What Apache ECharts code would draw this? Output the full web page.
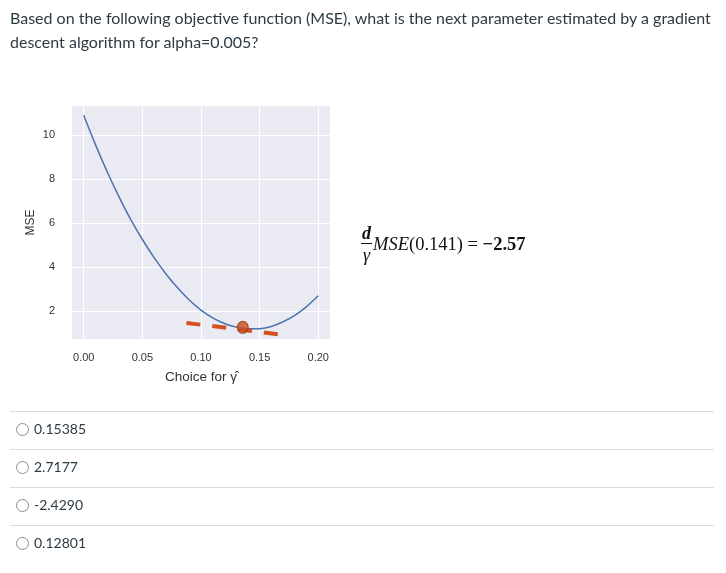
<!DOCTYPE html>
<html>
<head>
<meta charset="utf-8">
<script src="https://cdn.jsdelivr.net/npm/echarts@6/dist/echarts.min.js"></script>
<style>
  html, body { margin: 0; padding: 0; background: #fff; }
  #wrap { position: relative; width: 726px; height: 573px; overflow: hidden; }
  #chart { position: absolute; left: 0; top: 0; width: 726px; height: 573px; }
  .q { position: absolute; left: 10px; top: 6px; font-family: Lato, sans-serif; font-size: 16px; line-height: 24px; color: #2d3b45; white-space: nowrap; }
  .eq { position: absolute; left: 361px; top: 225px; font-family: "Liberation Serif", "DejaVu Serif", serif; font-size: 18.5px; color: #111; white-space: nowrap; display: flex; align-items: center; }
  .frac { display: inline-flex; flex-direction: column; align-items: center; font-style: italic; font-size: 18px; line-height: 16px; margin-right: 1px; }
  .frac .num { border-bottom: 1px solid #111; padding: 0 1px 2px 1px; font-weight: bold; }
  .frac .den { padding-top: 3px; }
  .opt { position: absolute; left: 0; width: 726px; font-family: Lato, sans-serif; font-size: 14px; color: #2d3b45; }
  .sep { position: absolute; left: 10px; width: 704px; height: 1px; background: #d9dcde; }
  .radio { position: absolute; left: 16px; width: 11px; height: 11px; border: 1px solid #8c8c8c; border-radius: 50%; background: #fff; }
  .otext { position: absolute; left: 34px; }
</style>
</head>
<body>
<div id="wrap">
  <div id="chart"></div>
  <div class="q">Based on the following objective function (MSE), what is the next parameter estimated by a gradient<br>descent algorithm for alpha=0.005?</div>
  <div class="eq"><span class="frac"><span class="num">d</span><span class="den">γ</span></span><span><i>MSE</i>(0.141) = <b>−2.57</b></span></div>
  <div id="opts"></div>
</div>
<script>
// ---- data ----
const xVals   = [0.00, 0.01, 0.02, 0.03, 0.04, 0.05, 0.06, 0.07, 0.08, 0.09, 0.10,
                 0.11, 0.12, 0.13, 0.14, 0.15, 0.16, 0.17, 0.18, 0.19, 0.20];
const mseVals = [10.89, 9.56, 8.33, 7.20, 6.17, 5.26, 4.44, 3.71, 3.07, 2.52, 2.06,
                 1.71, 1.45, 1.29, 1.21, 1.22, 1.32, 1.53, 1.82, 2.22, 2.71];
const tangentX = [0.0876, 0.1667];
const tangentY = [1.48, 0.96];
const pointX = [0.1356];
const pointY = [1.28];
const xTicks = [0.00, 0.05, 0.10, 0.15, 0.20];
const yTicks = [2, 4, 6, 8, 10];
const answerOptions = ["0.15385", "2.7177", "-2.4290", "0.12801"];

// ---- answer list ----
const opts = document.getElementById('opts');
const sepTops = [411, 449, 487, 525];
answerOptions.forEach((t, i) => {
  const sep = document.createElement('div');
  sep.className = 'sep';
  sep.style.top = sepTops[i] + 'px';
  opts.appendChild(sep);
  const o = document.createElement('div');
  o.className = 'opt';
  o.style.top = (sepTops[i] + 9) + 'px';
  o.style.height = '20px';
  o.innerHTML = '<span class="radio" style="top:3px"></span><span class="otext" style="top:0px;line-height:18px">' + t + '</span>';
  opts.appendChild(o);
});

// ---- chart ----
const chart = echarts.init(document.getElementById('chart'), null, { renderer: 'canvas' });
const labelColor = '#333333';
const fam = 'Liberation Sans, Arial, sans-serif';
chart.setOption({
  animation: false,
  grid: { left: 72, top: 106, width: 258, height: 233, show: true, backgroundColor: '#eaeaf2', borderWidth: 0 },
  xAxis: {
    type: 'value', min: -0.01, max: 0.21,
    name: 'Choice for \u03B3\u0302', nameLocation: 'middle', nameGap: 31,
    nameTextStyle: { fontFamily: fam, fontSize: 13.5, color: labelColor },
    axisLine: { show: false },
    axisTick: { show: false, customValues: xTicks },
    axisLabel: { customValues: xTicks, formatter: v => v.toFixed(2), fontFamily: fam, fontSize: 11, color: labelColor, margin: 13 },
    splitLine: { show: true, lineStyle: { color: '#ffffff', width: 1 } }
  },
  yAxis: {
    type: 'value', min: 0.75, max: 11.31,
    name: 'MSE', nameLocation: 'middle', nameGap: 35, nameRotate: 90,
    nameTextStyle: { fontFamily: fam, fontSize: 12, color: labelColor },
    axisLine: { show: false },
    axisTick: { show: false, customValues: yTicks },
    axisLabel: { customValues: yTicks, fontFamily: fam, fontSize: 11, color: labelColor, margin: 17 },
    splitLine: { show: true, lineStyle: { color: '#ffffff', width: 1 } }
  },
  series: [
    {
      type: 'line', data: xVals.map((x, i) => [x, mseVals[i]]), smooth: 0.3, symbol: 'none',
      lineStyle: { color: '#4c72b0', width: 1.5 }, z: 2
    },
    {
      type: 'line', data: tangentX.map((x, i) => [x, tangentY[i]]), symbol: 'none',
      lineStyle: { color: '#d2531f', width: 4, type: [14, 12], cap: 'butt' }, z: 3
    },
    {
      type: 'scatter', data: pointX.map((x, i) => [x, pointY[i]]), symbol: 'circle', symbolSize: [11, 12],
      itemStyle: { color: '#cc4f1c', borderColor: '#8a3210', borderWidth: 1 }, z: 4
    }
  ]
});
</script>
</body>
</html>
